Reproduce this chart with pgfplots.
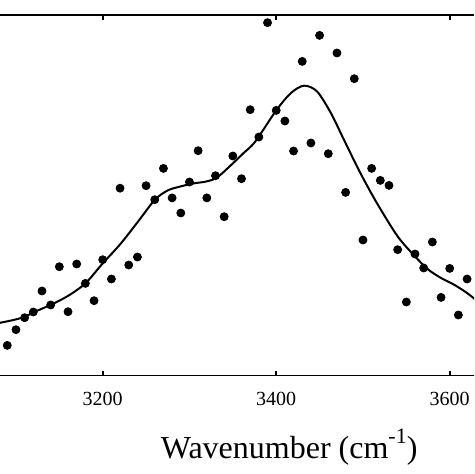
\documentclass[border=0pt]{standalone}
\usepackage{pgfplots}
\pgfplotsset{compat=1.18}
\usepackage{fontspec}
\setmainfont{Liberation Serif}

% measured O-H stretch band (points) and smoothed fit (line)
\pgfplotstableread{
x y
3080 39
3090 30
3100 45.7
3110 57.7
3120 63.4
3130 84.4
3140 70.4
3150 108.7
3160 63.7
3170 111.4
3180 92
3190 74.7
3200 115.7
3210 96.4
3220 187.2
3230 110.4
3240 118.4
3250 189.7
3260 175.7
3270 207
3280 177.5
3290 162.4
3300 193.4
3310 224.7
3320 177.5
3330 199.7
3340 158.7
3350 219.4
3360 196.7
3370 265.7
3380 238.4
3390 352.7
3400 265
3410 254.4
3420 224.4
3430 314
3440 232.4
3450 340
3460 221.7
3470 322.4
3480 183
3490 296.7
3500 135.4
3510 207
3520 195
3530 190
3540 125.7
3550 73.4
3560 121.4
3570 107.4
3580 133.4
3590 78
3600 107
3610 60.4
3620 96.4
3630 50
}\measured

\pgfplotstableread{
x y
3075 51.5
3095 55
3110 58.5
3120 63
3140 70.5
3160 79.5
3180 92
3200 112
3220 131
3240 153
3260 175.5
3275 185
3290 189
3305 192
3320 194
3332 198
3350 212
3362 222
3376 234
3400 265
3417 282.4
3432 289.7
3447 284
3463 262.4
3478 235.7
3497 202.4
3516 172.4
3540 139
3560 119
3575 106
3590 97.4
3605 90.7
3620 82.4
3635 72
}\fitted

\begin{document}
\begin{tikzpicture}
\begin{axis}[
  scale only axis,
  width=237pt, height=180.35pt,
  xmin=3081.6, xmax=3628,
  ymin=-0.3, ymax=360.4,
  hide y axis,
  xtick={3200,3400,3600},
  tick align=inside,
  major tick length=2.5pt,
  axis line style={line width=0.8pt},
  every tick/.style={line width=0.9pt, black},
  /pgf/number format/1000 sep={},
  /pgf/number format/assume math mode=true,
  xticklabel style={font=\fontsize{10}{12}\selectfont, yshift=-4.6pt},
  xlabel={Wavenumber (cm\raisebox{0.48em}{\fontsize{11}{12}\selectfont -1})},
  xlabel style={font=\fontsize{16}{18}\selectfont,
    at={(axis description cs:0.61,0)}, anchor=base, yshift=-41.4pt},
]
\addplot[black, line width=1pt, smooth, tension=0.5] table {\fitted};
\addplot[only marks, mark=*, mark size=2pt, black] table {\measured};
\end{axis}
\pgfresetboundingbox
\useasboundingbox ([yshift=7.5pt]current axis.north west) rectangle ([yshift=-49.15pt]current axis.south east);
\end{tikzpicture}
\end{document}
